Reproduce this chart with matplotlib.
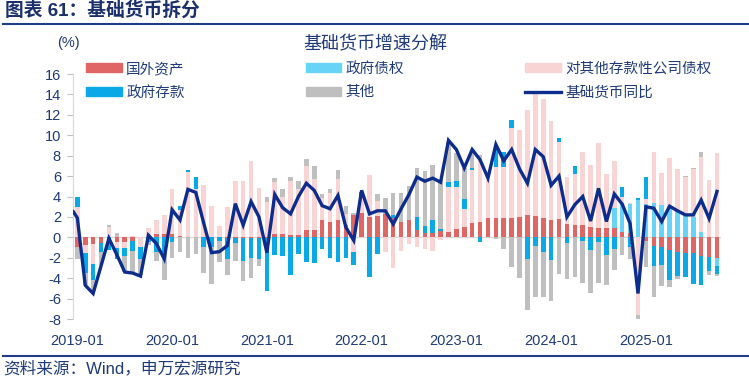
import numpy as np
import pandas as pd
import matplotlib
matplotlib.use('Agg')
import matplotlib.pyplot as plt
from matplotlib.patches import Patch
from matplotlib.lines import Line2D

# fonts: latin digits in Arial-like, CJK falls back to Noto
plt.rcParams['font.family'] = ['Liberation Sans', 'Noto Sans CJK SC']
plt.rcParams['axes.unicode_minus'] = False

# 01. data (contributions to base money growth, %), 2019-01 .. 2025-10
months = pd.date_range('2019-01-01', periods=82, freq='MS').strftime('%Y-%m').tolist()

foreign_assets = [-0.9, -0.75, -0.7, -0.6, 0, -0.5, -0.45, -0.35, 0, 0,
                  0.3, 0.3, 0.3, 0.1, 0, 0, 0, 0, 0, -0.1,
                  -0.1, -0.1, -0.1, -0.1, -0.1, 0.3, 0.3, 0.25, 0.25, 0.7,
                  0.7, 1.65, 1.55, 1.7, 1.2, 2.15, 2.35, 2.0, 2.1, 2.25,
                  1.85, 1.55, 1.65, 0.7, 0.4, 0.45, 0.65, 0.55, 0.8, 1.0,
                  1.45, 1.55, 1.85, 1.85, 1.85, 1.85, 1.95, 2.2, 2.1, 1.85,
                  1.65, 1.75, 1.3, 1.2, 1.2, 1.05, 0.95, 0.9, 0.95, 0.55,
                  0.45, 0, -0.4, -0.8, -0.9, -1.2, -1.4, -1.5, -1.55, -1.85,
                  -1.95, -2.05]
gov_claims = [0] * 68 + [1.9, 2.8, 2.8, 3.7, 3.3, 3.33, 3.2, 3.05, 2.6, 2.2,
                         2.0, 0.55, 0, -0.8]
odc_claims = [3.0, -0.75, -1.9, 0, 1.05, -0.55, -0.55, 0.1, -0.9, 0.95,
              1.4, 1.9, 4.4, 2.6, 6.4, 4.7, 5.1, 3.1, 1.15, 3.0,
              5.5, 5.5, 7.5, 4.8, 3.5, 5.1, 3.7, 5.3, 4.5, 6.3,
              5.0, 2.25, 2.8, 4.0, 1.1, -1.4, 1.6, 4.1, 1.45, -1.4,
              -3.0, -1.3, -0.7, -0.9, -1.1, -1.3, -0.25, 4.4, 4.15, 1.75,
              5.15, 6.2, 3.75, 5.0, 5.05, 8.9, 8.6, 10.3, 12.0, 11.75,
              9.7, 7.6, 4.65, 5.0, 7.2, 6.05, 8.3, 5.3, 4.6, 0.65,
              0.15, -7.6, 0.5, 5.05, 3.15, 4.75, 4.05, 3.7, 4.65, 7.3,
              5.6, 8.3]
gov_deposits = [1.0, -2.0, -1.6, -0.85, -1.2, -1.1, -0.8, -1.0, -1.2, -0.5,
                -1.4, -1.4, -0.5, 0.4, 0.2, 1.2, -0.9, -0.9, -0.35, -2.0,
                -0.5, -2.2, -1.9, -2.0, -5.2, -1.7, -1.8, -3.7, -1.6, -2.4,
                -2.5, -1.1, -2.0, -2.4, -2.0, -1.3, 0.5, -3.9, -1.6, 0,
                0.3, 0, 0, 1.3, 0.7, 1.2, 0.15, 0.5, 0.55, 1.0,
                0.15, -0.5, 0, 2.2, 1.5, 0.7, 0, -2.1, -0.8, -1.4,
                -2.2, 0.4, -0.6, 0.8, -0.4, -1.25, -0.5, -1.75, -1.1, 0.9,
                -0.9, 0.2, 2.1, -2.05, -1.8, -3.0, -2.4, -2.35, -3.0, -2.85,
                -1.3, -0.7]
others = [-1.2, -1.2, -1.3, -1.3, 0.15, 0.45, -1.6, -2.05, -1.6, -0.25,
          -0.9, -2.8, -1.5, -1.4, -2.0, -1.6, -2.6, -3.7, -2.1, -1.6,
          -1.7, -2.0, -2.0, -0.7, 0.45, 0.45, 0.75, 0.4, 0.8, 0.65,
          1.3, 0.3, 0.4, 0.9, 0.8, 0.25, 0, 0, 0.65, 1.6,
          2.2, 2.8, 3.4, 4.8, 5.4, 5.4, 4.8, 3.9, 2.8, 3.0,
          1.6, 0.3, 0, -0.2, -1.1, -2.9, -4.0, -5.0, -5.0, -4.4,
          -4.0, -3.6, -3.5, -3.85, -4.1, -4.2, -3.95, -2.95, -2.1, -1.75,
          -1.2, -0.5, -2.5, -3.0, -2.1, -0.65, -0.3, 0.1, 0.1, 0.55,
          -0.4, -0.25]
base_money_yoy = [1.9, -4.7, -5.5, -2.8, -0.1, -1.7, -3.4, -3.5, -3.8, 0.2,
                  -0.6, -2.1, 2.7, 1.7, 4.7, 4.4, 1.4, -1.5, -1.4, -0.8,
                  3.3, 1.2, 3.5, 2.0, -1.5, 4.2, 2.9, 2.3, 4.0, 5.3,
                  4.6, 3.1, 2.8, 4.1, 1.0, -0.3, 4.6, 2.3, 2.6, 2.6,
                  1.3, 2.8, 4.2, 5.9, 5.5, 5.8, 5.4, 9.5, 8.6, 6.8,
                  8.6, 7.6, 5.8, 9.1, 7.5, 8.6, 6.7, 5.3, 8.6, 7.9,
                  5.1, 6.0, 2.0, 3.2, 4.0, 1.6, 4.8, 1.55, 4.25, 3.25,
                  1.35, -5.5, 3.0, 2.85, 1.55, 3.05, 2.6, 2.2, 2.2, 3.65,
                  1.85, 4.5]
# the line in the original starts at the left edge of the axis
base_money_yoy_start = 2.5

series_names = ['国外资产', '政府债权', '对其他存款性公司债权', '政府存款', '其他']
series_values = [foreign_assets, gov_claims, odc_claims, gov_deposits, others]
series_colors = ['#E06666', '#66D3F7', '#F9D4D4', '#0AA8E6', '#BFBFBF']
line_color = '#0D2C8C'
text_color = '#1F3A78'

# 02. plot
fig = plt.figure(figsize=(7.49, 3.79), dpi=100)
ax = fig.add_axes([0.098, 0.1583, 0.8645, 0.6464])

x = np.arange(len(months))
pos_base = np.zeros(len(months))
neg_base = np.zeros(len(months))
for name, vals, color in zip(series_names, series_values, series_colors):
    vals = np.array(vals, dtype=float)
    bottom = np.where(vals >= 0, pos_base, neg_base)
    ax.bar(x, vals, bottom=bottom, width=0.58, color=color, zorder=2)
    pos_base += np.clip(vals, 0, None)
    neg_base += np.clip(vals, None, 0)

ax.axhline(0, color='#D9D9D9', lw=1, zorder=1)
ax.plot(np.r_[-0.5, x], [base_money_yoy_start] + base_money_yoy,
        color=line_color, lw=2.4, zorder=3, solid_joinstyle='miter')

ax.set_xlim(-0.5, len(months) - 0.5)
ax.set_ylim(-8, 16)
ax.set_yticks(range(-8, 17, 2))
ax.set_xticks(x[::12])
ax.set_xticklabels(months[::12])
ax.tick_params(axis='y', length=4, color='#BFBFBF', labelcolor=text_color,
               labelsize=10.5, pad=5)
ax.tick_params(axis='x', length=0, labelcolor=text_color, labelsize=10.5, pad=11)
for side in ['top', 'right', 'bottom']:
    ax.spines[side].set_visible(False)
ax.spines['left'].set_color('#D9D9D9')

# legend, 3 columns like the original
leg_handles = [Patch(color=series_colors[0]), Patch(color=series_colors[3]),
               Patch(color=series_colors[1]), Patch(color=series_colors[4]),
               Patch(color=series_colors[2]), Line2D([], [], color=line_color, lw=2.4)]
leg_labels = [series_names[0], series_names[3], series_names[1], series_names[4],
              series_names[2], '基础货币同比']
leg = fig.legend(leg_handles, leg_labels, ncol=3, loc='upper left',
                 bbox_to_anchor=(86 / 749, 1 - 62 / 379), frameon=False,
                 fontsize=10.5, handlelength=2.45, handleheight=0.55,
                 handletextpad=0.3, columnspacing=8.3, labelspacing=0.64,
                 borderpad=0, borderaxespad=0)
for t in leg.get_texts():
    t.set_color(text_color)

fig.text(375 / 749, 1 - 45 / 379, '基础货币增速分解', ha='center', va='center',
         fontsize=13, color=text_color)
fig.text(68 / 749, 1 - 43 / 379, '(%)', ha='center', va='center',
         fontsize=10.5, color=text_color)

# report header / footer
fig.text(5 / 749, 1 - 11 / 379, '图表 61：基础货币拆分', ha='left', va='center',
         fontsize=13.5, fontweight='bold', color='#1A2F6B')
fig.add_artist(Line2D([0.004, 1], [1 - 24 / 379] * 2, color='#1F3C88', lw=1.5))
fig.add_artist(Line2D([0.004, 1], [1 - 356 / 379] * 2, color='#1F3C88', lw=1.5))
fig.text(3 / 749, 1 - 368 / 379, '资料来源：Wind，申万宏源研究', ha='left', va='center',
         fontsize=12, color=text_color)

plt.savefig('out.png', dpi=100)
